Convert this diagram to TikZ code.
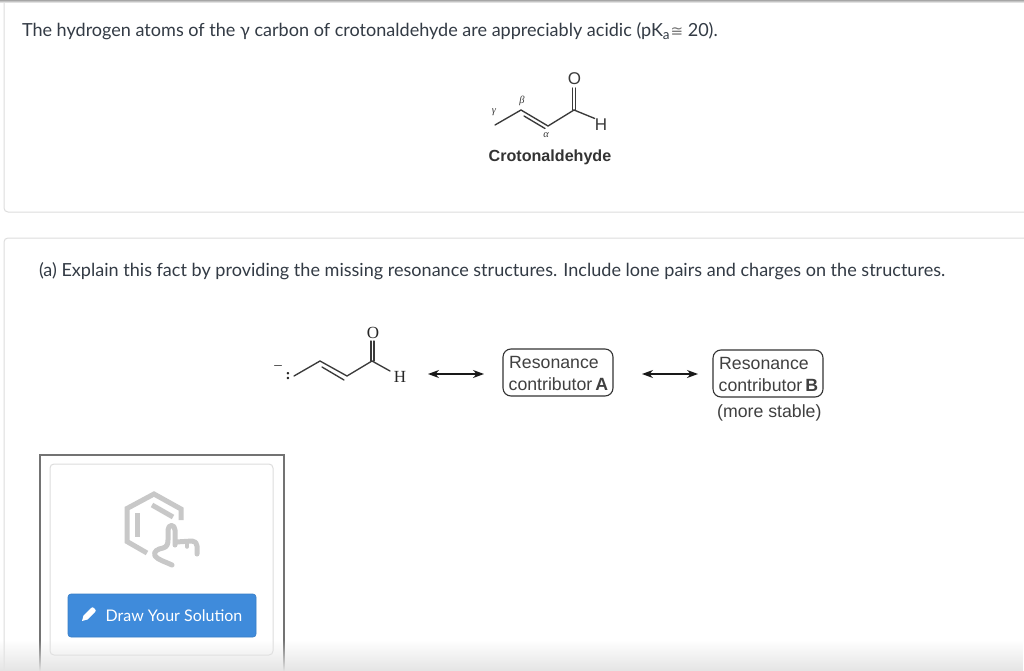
\documentclass[tikz,border=0pt]{standalone}
\usepackage{fontspec}
\setmainfont{Lato}
\newfontfamily\arl{Liberation Sans}
\newfontfamily\tms{Liberation Serif}
\newfontfamily\dej{DejaVu Sans}
\usetikzlibrary{arrows.meta,fadings}
\definecolor{bodytxt}{HTML}{333B45}
\definecolor{cardline}{HTML}{DDDDDD}
\definecolor{chem}{HTML}{3A3A3A}
\definecolor{iconc}{HTML}{C8C8C8}
\definecolor{btn}{HTML}{3F8BDB}
\tikzset{
  x=1pt,y=-1pt,
  txt/.style={inner sep=0pt,outer sep=0pt,anchor=base west,text=bodytxt,font=\fontsize{18.05}{20}\selectfont},
  card/.style={draw=cardline,line width=1pt,fill=white,rounded corners=4pt},
  bond/.style={draw=chem,line width=1.35pt,line cap=round},
  atomA/.style={inner sep=0pt,text=chem,font=\arl\fontsize{17}{18}\selectfont},
  atomB/.style={inner sep=0pt,text=black!85,font=\tms\fontsize{17}{18}\selectfont},
  greek/.style={inner sep=0pt,text=chem,font=\tms\itshape\fontsize{10.5}{11}\selectfont},
  resbox/.style={draw=black!80,line width=1.1pt,rounded corners=8pt,minimum width=110pt,minimum height=47pt,inner sep=0pt},
  restxt/.style={inner sep=0pt,anchor=base west,text=black!75,font=\arl\fontsize{17.7}{18}\selectfont},
  harrow/.style={draw=black!90,line width=1.1pt,{Stealth[length=11pt,width=8pt,inset=3.5pt]}-{Stealth[length=11pt,width=8pt,inset=3.5pt]}},
  icon/.style={draw=iconc,line width=5pt,line cap=butt,line join=miter},
  iconr/.style={draw=iconc,line width=5pt,line cap=round,line join=round},
}
\begin{document}
\begin{tikzpicture}
\useasboundingbox (0,0) rectangle (1024,671);
\fill[white] (0,0) rectangle (1024,671);
% cards
\draw[card] (1030,-5) -- (4,-5) -- (4,212) -- (1030,212);
\draw[card] (1030,238) -- (4,238) -- (4,680);
\shade[top color=black!35,bottom color=white] (0,0) rectangle (1024,3);
\node[txt] (title) at (22,37) {The hydrogen atoms of the γ carbon of crotonaldehyde are appreciably acidic (pK\raisebox{-3pt}{\fontsize{13.5}{13}\selectfont a}\hspace{1pt}{\dej\fontsize{15}{15}\selectfont\textcolor{black!55}{≅}} 20).};
% crotonaldehyde
\coordinate (g1) at (495,125);
\coordinate (b1) at (521,110);
\coordinate (a1) at (548,126);
\coordinate (c1) at (574,110);
\coordinate (d1a) at (524,116);
\coordinate (d1b) at (545,128.5);
\node[atomA] (o1) at (574.5,79) {O};
\node[atomA] (h1) at (601,124.5) {H};
\draw[bond] (g1) -- (b1) -- (a1) -- (c1);
\draw[bond] (d1a) -- (d1b);
\draw[bond] (572.5,110) -- (572.5,88);
\draw[bond] (575.5,110) -- (575.5,88);
\draw[bond] (c1) -- (h1.north west);
\node[greek] (lg1) at (494,112.5) {γ};
\node[greek] (lb1) at (522,100.5) {β};
\node[greek] (la1) at (546,135.5) {α};
\node[inner sep=0pt,anchor=base,text=black!80,font=\arl\bfseries\fontsize{16.1}{16}\selectfont] (cap) at (550,161) {Crotonaldehyde};
% part a
\node[txt] (parta) at (39,276.5) {(a) Explain this fact by providing the missing resonance structures. Include lone pairs and charges on the structures.};
% second molecule
\coordinate (s1) at (294,376);
\coordinate (s2) at (320,361);
\coordinate (s3) at (347,376);
\coordinate (s4) at (372,361);
\coordinate (d2a) at (322,367);
\coordinate (d2b) at (344,380);
\node[atomB] (o2) at (373,333) {O};
\node[atomB] (h2) at (400,377) {H};
\draw[bond] (s1) -- (s2) -- (s3) -- (s4);
\draw[bond] (d2a) -- (d2b);
\draw[bond] (371,361) -- (371,341);
\draw[bond] (374,361) -- (374,341);
\draw[bond] (s4) -- (390,371);
\node[inner sep=0pt,text=black!85,font=\tms\fontsize{15}{15}\selectfont] (mn) at (278,368) {–};
\node[inner sep=0pt,text=black!85,font=\tms\bfseries\fontsize{15}{15}\selectfont] (cl) at (288,376) {:};
% resonance boxes
\node[resbox] (boxA) at (558,372.5) {};
\node[resbox] (boxB) at (768,373.5) {};
\node[restxt] (ra1) at (509,368.5) {Resonance};
\node[restxt] (ra2) at (508.5,390) {contributor\hspace{3pt}\textbf{A}};
\node[restxt] (rb1) at (719,369.5) {Resonance};
\node[restxt] (rb2) at (718.5,391) {contributor\hspace{3pt}\textbf{B}};
\node[restxt] (rb3) at (717,417) {(more stable)};
\draw[harrow] (428,374) -- (484,374);
\draw[harrow] (642,374) -- (698,374);
% solution panel
\draw[card] (50,464) rectangle (273,655);
\draw[draw=black!55,line width=1.2pt] (40,680) -- (40,455) -- (284,455) -- (284,680);
% icon
\draw[icon] (147,553) -- (127,541.5) -- (127,508.5) -- (154,494) -- (181,509) -- (181,520);
\draw[icon] (152,505) -- (173,517);
\draw[icon] (137,513) -- (137,537);
\draw[iconr] (172,565) .. controls (166,562) and (158,560) .. (155,556) .. controls (153,551) and (158,549) .. (163,548) .. controls (167,547) and (168,544) .. (168,540) -- (168,530) .. controls (168,524) and (175,524) .. (175,530) -- (175,545);
\draw[iconr] (176,542) -- (192,541) .. controls (195,541) and (197,543) .. (197,546) -- (197,554);
\draw[draw=iconc,line width=3.5pt,line cap=round] (187,541) -- (187,547);
% button
\node[draw=btn!90!black,line width=.6pt,fill=btn,rounded corners=3pt,minimum width=188pt,minimum height=43pt,inner sep=0pt] (btnbox) at (162,615.5) {};
\node[inner sep=0pt,anchor=base west,text=white,font=\fontsize{16}{18}\selectfont] (btnlab) at (105.5,621) {Draw Your Solution};
\fill[white] (82,621) -- (83.5,615.5) -- (91,608) .. controls (92,607) and (93,607) .. (94,608) -- (95,609) .. controls (96,610) and (96,611) .. (95,612) -- (87.5,619.5) -- cycle;
% fade
\fill[black!10,path fading=north] (0,640) rectangle (1024,671);
\end{tikzpicture}
\end{document}
